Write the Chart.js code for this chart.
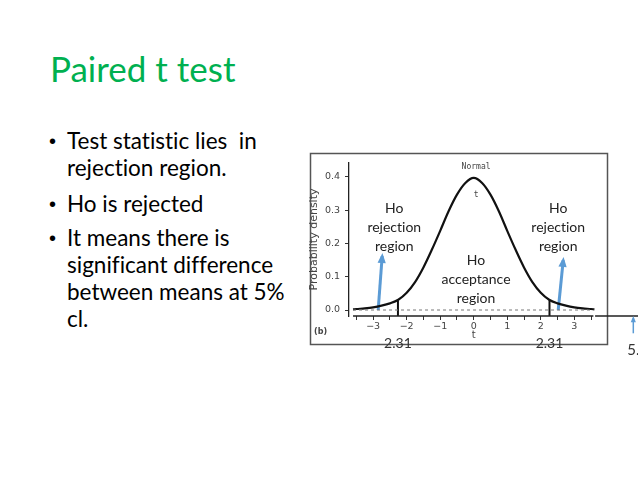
<!DOCTYPE html>
<html>
<head>
<meta charset="utf-8">
<script src="https://cdn.jsdelivr.net/npm/chart.js@4.4.0/dist/chart.umd.min.js"></script>
<style>
  body { margin: 0; background: #fff; width: 638px; height: 478px; overflow: hidden; position: relative;
         font-family: Lato, "Open Sans", sans-serif; font-variant-ligatures: none; font-feature-settings: "liga" 0, "clig" 0; }
  .t { position: absolute; white-space: nowrap; line-height: 1; }
  #title { left: 50px; top: 51px; font-size: 35px; color: #00B050; }
  .b { font-size: 22.5px; color: #000; left: 67px; }
  .dot { font-family: "Liberation Sans", Arial, sans-serif; font-size: 20px; left: 49px; }
  #wrap { position: absolute; left: 300px; top: 150px; width: 338px; height: 215px; }
</style>
</head>
<body>
<div id="title" class="t">Paired t test</div>

<div class="t dot" style="top:131px">•</div>
<div class="t b" style="top:130px">Test statistic lies&nbsp; in</div>
<div class="t b" style="top:157px">rejection region.</div>
<div class="t dot" style="top:194px">•</div>
<div class="t b" style="top:193px">Ho is rejected</div>
<div class="t dot" style="top:228px">•</div>
<div class="t b" style="top:227px">It means there is</div>
<div class="t b" style="top:254px">significant difference</div>
<div class="t b" style="top:281px">between means at 5%</div>
<div class="t b" style="top:308px">cl.</div>

<div id="wrap"><canvas id="chart"></canvas></div>

<script>
// density curve
const curveX = [-3.6, -3.5, -3.25, -3, -2.75, -2.5, -2.25, -2, -1.75, -1.5, -1.25, -1, -0.75, -0.5, -0.25, 0,
                0.25, 0.5, 0.75, 1, 1.25, 1.5, 1.75, 2, 2.25, 2.5, 2.75, 3, 3.25, 3.5, 3.6];
const curveY = [0.002, 0.003, 0.005, 0.008, 0.013, 0.020, 0.031, 0.052, 0.084, 0.128, 0.181, 0.238, 0.297, 0.347, 0.382, 0.397,
                0.382, 0.347, 0.297, 0.238, 0.181, 0.128, 0.084, 0.052, 0.031, 0.020, 0.013, 0.008, 0.005, 0.003, 0.002];

const zeroLineX = [-3.6, 3.57];
const critX = [-2.26, 2.26];
const critTop = 0.029;
const critLabels = ["2.31", "2.31"];
const axisFloor = -0.018;

const yTicks = [0, 0.1, 0.2, 0.3, 0.4];
const xTicks = [-3.5, -3, -2.5, -2, -1.5, -1, -0.5, 0, 0.5, 1, 1.5, 2, 2.5, 3, 3.5];

// x-axis spine, a short gap, then the line running on off the picture
const spineX = [-3.6, 3.57, 3.6, 3.62, 4.9];
const spineY = [axisFloor, axisFloor, null, axisFloor, axisFloor];
const arrowLeftX = [-2.85, -2.73];
const arrowLeftY = [0, 0.162];
const arrowRightX = [2.52, 2.67];
const arrowRightY = [0, 0.15];
const smallArrowX = [4.76, 4.76];
const smallArrowY = [-0.07, -0.024];

const noteLines = [["Ho", "rejection", "region"], ["Ho", "rejection", "region"], ["Ho", "acceptance", "region"]];
const noteX = [-2.37, 2.52, 0.07];
const noteY = [0.304, 0.304, 0.150];

const pts = (xs, ys) => xs.map((x, i) => ({ x: x, y: ys[i] }));
const blue = "#5B9BD5";

const line = (data, color, width, extra) => Object.assign({
  data: data, borderColor: color, backgroundColor: color, borderWidth: width,
  showLine: true, pointRadius: 0, fill: false, clip: false, tension: 0, spanGaps: false
}, extra || {});

const datasets = [
  line(pts(zeroLineX, [0, 0]), "#777", 1, { borderDash: [3, 3] }),
  line(pts(spineX, spineY), "#222", 1.5),
  line(pts(curveX, curveY), "#111", 2.2, { cubicInterpolationMode: "monotone" }),
  line(pts([critX[0], critX[0]], [axisFloor, critTop]), "#111", 2),
  line(pts([critX[1], critX[1]], [axisFloor, critTop]), "#111", 2),
  line(pts(arrowLeftX, arrowLeftY), blue, 3, { arrow: 8 }),
  line(pts(arrowRightX, arrowRightY), blue, 3, { arrow: 8 }),
  line(pts(smallArrowX, smallArrowY), blue, 1.5, { arrow: 5 })
];

const extras = {
  id: "extras",
  beforeDraw(chart) {
    const ctx = chart.ctx;
    ctx.save();
    ctx.strokeStyle = "#555";
    ctx.lineWidth = 1.5;
    ctx.strokeRect(10.5, 3.5, 297, 191);
    ctx.restore();
  },
  afterDatasetsDraw(chart) {
    const ctx = chart.ctx, xs = chart.scales.x, ys = chart.scales.y;
    ctx.save();
    // arrow heads
    chart.data.datasets.forEach(ds => {
      if (!ds.arrow) return;
      const a = ds.data[ds.data.length - 2], b = ds.data[ds.data.length - 1];
      const x1 = xs.getPixelForValue(a.x), y1 = ys.getPixelForValue(a.y);
      const x2 = xs.getPixelForValue(b.x), y2 = ys.getPixelForValue(b.y);
      const ang = Math.atan2(y2 - y1, x2 - x1), s = ds.arrow;
      ctx.fillStyle = ds.borderColor;
      ctx.beginPath();
      ctx.moveTo(x2 + Math.cos(ang) * s * 0.4, y2 + Math.sin(ang) * s * 0.4);
      ctx.lineTo(x2 + Math.cos(ang + 2.6) * s, y2 + Math.sin(ang + 2.6) * s);
      ctx.lineTo(x2 + Math.cos(ang - 2.6) * s, y2 + Math.sin(ang - 2.6) * s);
      ctx.closePath();
      ctx.fill();
    });
    // small labels of the plot
    ctx.fillStyle = "#444";
    ctx.textAlign = "center";
    ctx.textBaseline = "middle";
    ctx.font = "8px 'DejaVu Sans Mono', monospace";
    ctx.fillText("Normal", xs.getPixelForValue(0.07), ys.getPixelForValue(0.43));
    ctx.fillText("t", xs.getPixelForValue(0.07), ys.getPixelForValue(0.346));
    ctx.font = "10px 'DejaVu Sans', sans-serif";
    ctx.fillText("t", xs.getPixelForValue(0), 185);
    ctx.font = "bold 8px 'DejaVu Sans', sans-serif";
    ctx.textAlign = "left";
    ctx.fillText("(b)", 14, 182);
    // region notes
    ctx.fillStyle = "#222";
    ctx.textAlign = "center";
    ctx.font = "14px Lato, sans-serif";
    noteLines.forEach((ls, i) => {
      const px = xs.getPixelForValue(noteX[i]), py = ys.getPixelForValue(noteY[i]);
      ls.forEach((s, j) => ctx.fillText(s, px, py + j * 19));
    });
    // critical value labels
    ctx.fillStyle = "#333";
    ctx.font = "14px Lato, sans-serif";
    critX.forEach((v, i) => ctx.fillText(critLabels[i], xs.getPixelForValue(v), 193));
    ctx.textAlign = "left";
    ctx.font = "15px Lato, sans-serif";
    ctx.fillText("5.", xs.getPixelForValue(smallArrowX[0]) - 6, 200);
    ctx.restore();
  }
};

const fmt = v => (v < 0 ? "\u2212" + Math.abs(v) : String(v));

new Chart(document.getElementById("chart"), {
  type: "scatter",
  data: { datasets: datasets },
  plugins: [extras],
  options: {
    responsive: true,
    maintainAspectRatio: false,
    animation: false,
    events: [],
    layout: { padding: { left: 8, top: 13, right: 0, bottom: 10 } },
    plugins: { legend: { display: false }, tooltip: { enabled: false } },
    scales: {
      x: {
        type: "linear", min: -3.72, max: 4.9,
        afterFit: s => { s.height = 39; },
        afterBuildTicks: s => { s.ticks = xTicks.map(v => ({ value: v })); },
        grid: { drawOnChartArea: false, drawTicks: true, tickLength: 4, color: "#333" },
        border: { display: false },
        ticks: { autoSkip: false, maxRotation: 0, padding: 1, color: "#444",
                 font: { family: "'DejaVu Sans', sans-serif", size: 9.5 },
                 callback: v => (Number.isInteger(v) ? fmt(v) : "") }
      },
      y: {
        type: "linear", min: -0.018, max: 0.442,
        afterFit: s => { s.width = 41; },
        afterBuildTicks: s => { s.ticks = yTicks.map(v => ({ value: v })); },
        grid: { drawOnChartArea: false, drawTicks: true, tickLength: 4, color: "#333" },
        border: { display: true, color: "#222", width: 1.3 },
        ticks: { padding: 5, color: "#444", font: { family: "'DejaVu Sans', sans-serif", size: 9.5 },
                 callback: v => v.toFixed(1) },
        title: { display: true, text: "Probability density", color: "#444", padding: { top: 0, bottom: 0 },
                 font: { family: "'DejaVu Sans', sans-serif", size: 11 } }
      }
    }
  }
});
</script>
</body>
</html>
